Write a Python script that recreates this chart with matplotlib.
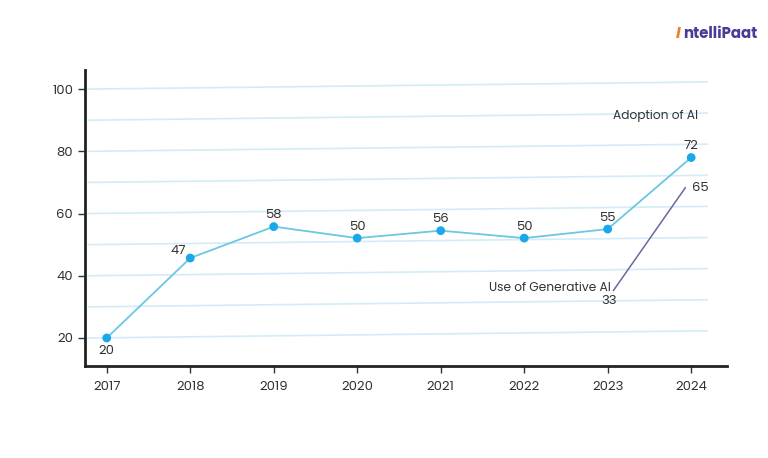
import matplotlib
matplotlib.use("Agg")
import matplotlib.pyplot as plt

plt.rcParams['font.family'] = ['Poppins', 'Open Sans', 'DejaVu Sans']

years = [2017, 2018, 2019, 2020, 2021, 2022, 2023, 2024]
adoption_labels = [20, 47, 58, 50, 56, 50, 55, 72]
# heights at which the markers are drawn in the picture
adoption_points = [20, 45.7, 55.8, 52.1, 54.5, 52.1, 55.0, 78.0]

genai_x = [2023.07, 2023.93]
genai_points = [35.3, 68.3]
genai_labels = [33, 65]

yticks = [20, 40, 60, 80, 100]
grid_levels = [20, 30, 40, 50, 60, 70, 80, 90, 100]

fig = plt.figure(figsize=(7.68, 4.58), dpi=100)
ax = fig.add_axes([0.1107, 0.2009, 0.836, 0.646])
ax.set_xlim(2016.74, 2024.43)
ax.set_ylim(11.0, 106.1)

# slightly tilted light blue guide lines
for g in grid_levels:
    ax.plot([2016.78, 2024.19], [g, g + 2.3], color='#d3ecf7', lw=1.2, zorder=1)

ax.plot(years, adoption_points, color='#6cc7e4', lw=1.3, zorder=3)
ax.scatter(years, adoption_points, s=40, color='#1ba8e8', zorder=4, edgecolors='none')

fs = 9.5
for i, (x, y, lab) in enumerate(zip(years, adoption_points, adoption_labels)):
    if i == 0:
        ax.annotate(str(lab), (x, y), xytext=(0, -5), textcoords='offset points',
                    ha='center', va='top', fontsize=fs, color='#333333')
    elif i == 1:
        ax.annotate(str(lab), (x, y), xytext=(-3, 1), textcoords='offset points',
                    ha='right', va='bottom', fontsize=fs, color='#333333')
    else:
        ax.annotate(str(lab), (x, y), xytext=(0, 4), textcoords='offset points',
                    ha='center', va='bottom', fontsize=fs, color='#333333')

ax.plot(genai_x, genai_points, color='#6e659e', lw=1.1, zorder=3)
ax.annotate(str(genai_labels[0]), (genai_x[0], genai_points[0]), xytext=(-3, -3),
            textcoords='offset points', ha='center', va='top', fontsize=fs, color='#333333')
ax.annotate(str(genai_labels[1]), (genai_x[1], genai_points[1]), xytext=(5, 0),
            textcoords='offset points', ha='left', va='center', fontsize=fs, color='#333333')

ax.text(2023.57, 91.5, 'Adoption of AI', ha='center', va='center', fontsize=8.8, color='#333333')
ax.text(2023.04, 36.0, 'Use of Generative AI', ha='right', va='center', fontsize=8.8, color='#333333')

for s in ['top', 'right']:
    ax.spines[s].set_visible(False)
for s in ['left', 'bottom']:
    ax.spines[s].set_linewidth(2)
    ax.spines[s].set_color('#222222')

ax.set_xticks(years)
ax.set_xticklabels([str(y) for y in years])
ax.set_yticks(yticks)
ax.tick_params(axis='both', labelsize=9.5, colors='#333333', length=5, width=1)
ax.tick_params(axis='x', pad=6)

fig.text(0.880, 0.926, 'I', color='#f07f2a', fontsize=11.5, fontweight='bold', ha='left', va='center', style='italic')
fig.text(0.889, 0.926, 'ntelliPaat', color='#4a3b98', fontsize=10.8, fontweight='bold', ha='left', va='center')

fig.savefig('out.png', dpi=100)
